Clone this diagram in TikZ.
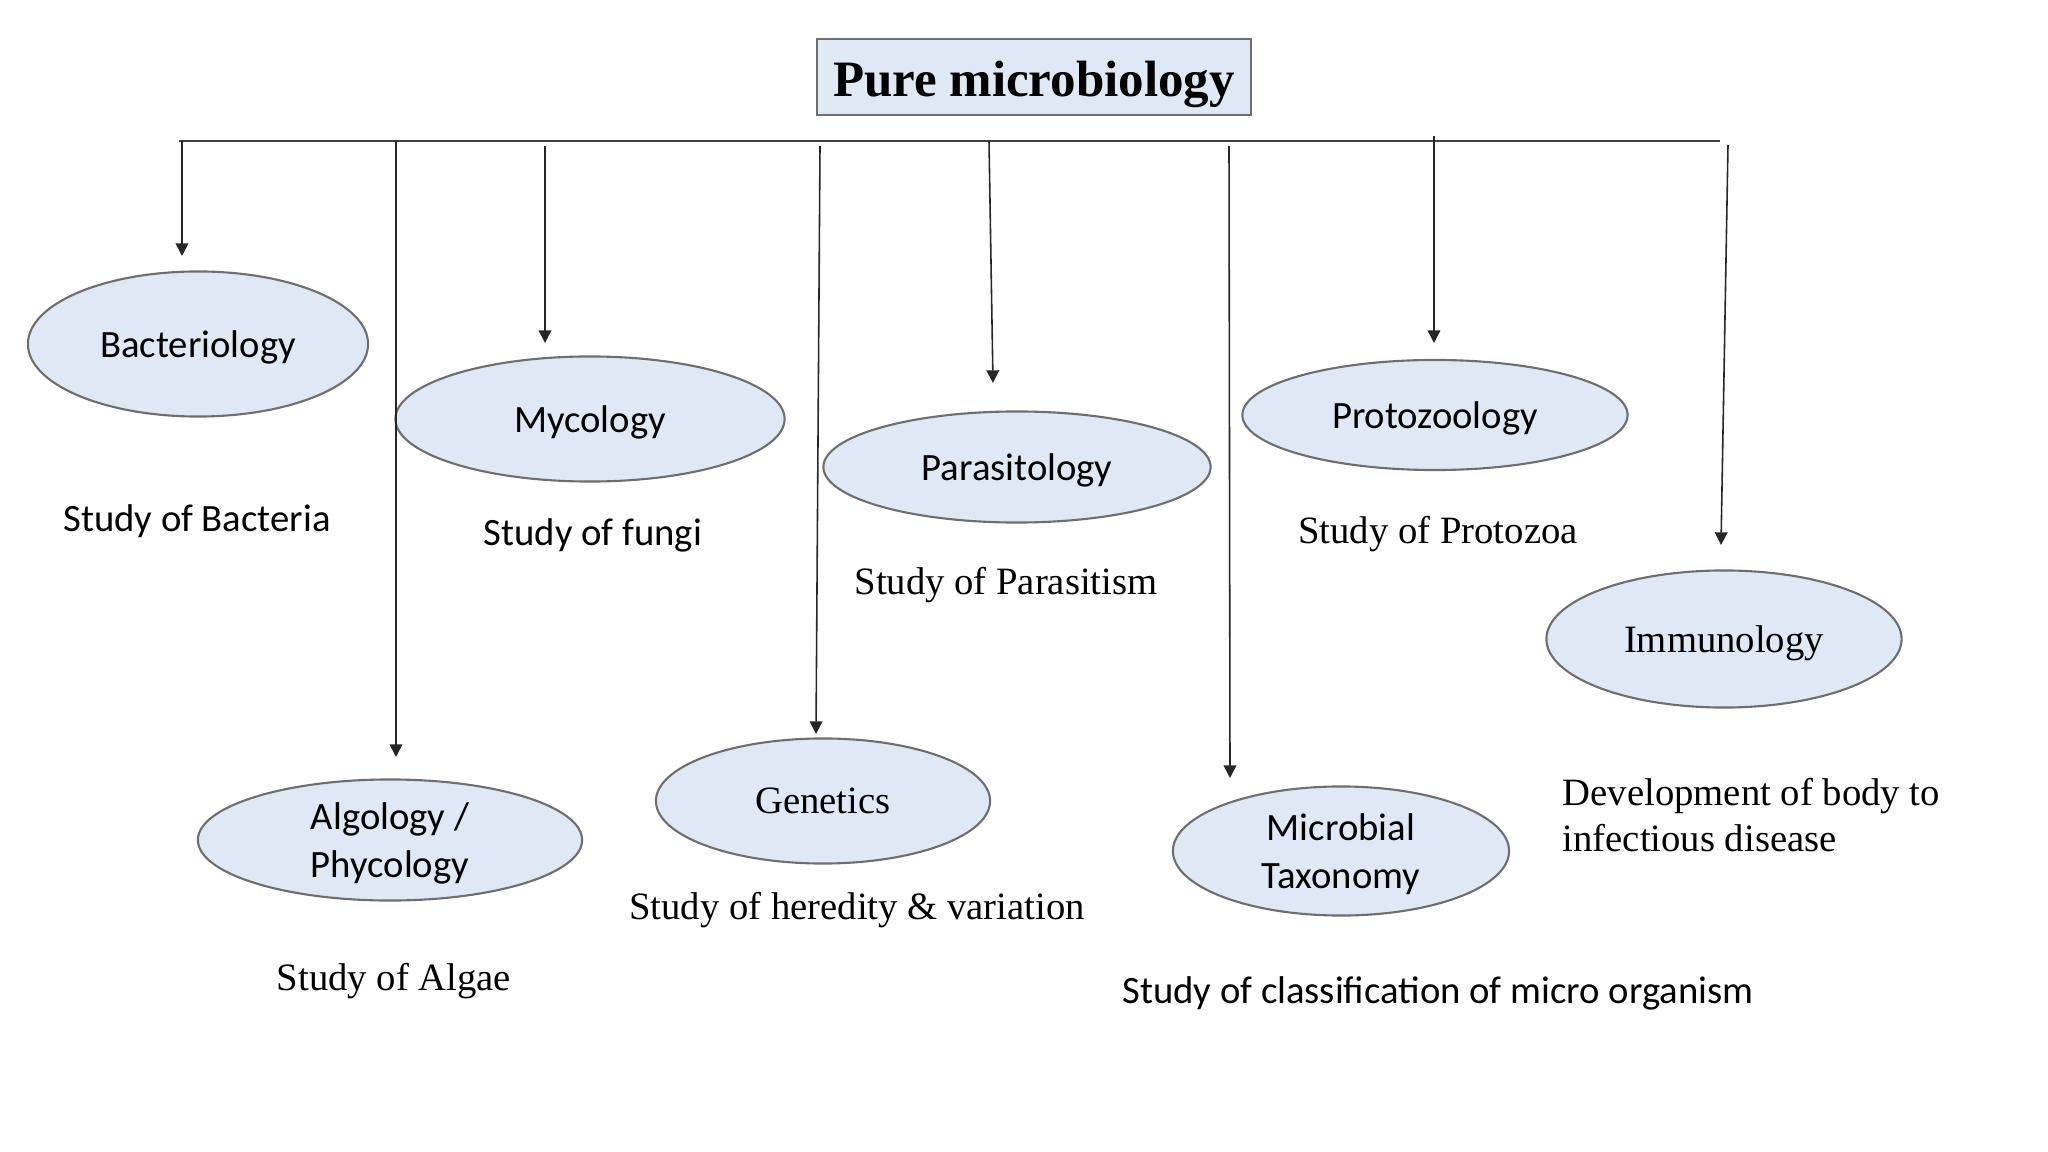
\documentclass[tikz,border=0pt]{standalone}
\usepackage{fontspec}
\usepackage{tikz}
\usetikzlibrary{arrows.meta, calc, positioning, shapes.geometric}
\setmainfont{Liberation Serif}
\newfontfamily\calib{Carlito}
\definecolor{PaleBlue}{HTML}{DEE9F5}
\definecolor{EdgeGray}{HTML}{6E6E6E}

\begin{document}
\begin{tikzpicture}[x=0.01cm, y=-0.01cm,
    field/.style={ellipse, draw=EdgeGray, fill=PaleBlue, line width=0.6pt,
        inner sep=0pt, align=center, text depth=0pt,
        font=\calib\fontsize{11}{13.5}\selectfont},
    fieldtm/.style={field, font=\fontsize{11}{13.5}\selectfont},
    note/.style={inner sep=0pt, text depth=0pt, font=\fontsize{11}{13}\selectfont},
    notecal/.style={note, font=\calib\fontsize{11}{13}\selectfont},
    arr/.style={draw=black!85, line width=0.45pt, -{Triangle[width=3.6pt, length=3.6pt]}}]
    \path[use as bounding box] (0,0) rectangle (2048,1152);
    % title
    \node[draw=EdgeGray, fill=PaleBlue, line width=0.6pt, minimum width=4.33cm,
        minimum height=0.76cm, inner sep=0pt, text height=11.2pt, text depth=0pt,
        font=\bfseries\fontsize{14.5}{16}\selectfont]
        (title) at (1034,77) {Pure microbiology};
    \coordinate (barL) at (179,141);
    \coordinate (barR) at (1720,141);
    \draw[draw=black!75, line width=0.45pt] (barL) -- (barR);
    % branches
    \node[field, minimum width=3.40cm, minimum height=1.45cm] (bact) at (198,344) {Bacteriology};
    \node[field, minimum width=3.89cm, minimum height=1.25cm] (myco) at (590,419) {Mycology};
    \node[field, minimum width=3.87cm, minimum height=1.11cm] (para) at (1017,467) {Parasitology};
    \node[field, minimum width=3.85cm, minimum height=1.10cm] (proto) at (1435,415) {Protozoology};
    \node[fieldtm, minimum width=3.55cm, minimum height=1.37cm] (immuno) at (1724,639) {Immunology};
    \node[field, minimum width=3.84cm, minimum height=1.21cm] (algo) at (390,840) {Algology /\\Phycology};
    \node[fieldtm, minimum width=3.34cm, minimum height=1.25cm] (gene) at (823,801) {Genetics};
    \node[field, minimum width=3.36cm, minimum height=1.29cm] (taxo) at (1341,851) {Microbial\\Taxonomy};
    % descriptions
    \node[notecal] (bactTxt) at (197,518) {Study of Bacteria};
    \node[notecal] (mycoTxt) at (593,532) {Study of fungi};
    \node[note] (paraTxt) at (1006,581) {Study of Parasitism};
    \node[note] (protoTxt) at (1438,530) {Study of Protozoa};
    \node[note, anchor=west, align=left] (immunoTxt) at (1562,815)
        {Development of body to\\infectious disease};
    \node[note] (algoTxt) at (394,977) {Study of Algae};
    \node[note] (geneTxt) at (857,906) {Study of heredity \& variation};
    \node[notecal] (taxoTxt) at (1438,990) {Study of classification of micro organism};
    % arrows
    \foreach \nm/\xa/\ya/\xb/\yb in {bact/182/141/182/256, algo/396/141/396/757,
        myco/545/146/545/343, gene/820/146/816/734, para/989/141/993/383,
        taxo/1229/146/1230/778, proto/1434/136/1434/343, immuno/1728/145/1721/545}
    {
        \coordinate (\nm Top) at (\xa,\ya);
        \coordinate (\nm Tip) at (\xb,\yb);
        \draw[arr] (\nm Top) -- (\nm Tip);
    }
\end{tikzpicture}
\end{document}
